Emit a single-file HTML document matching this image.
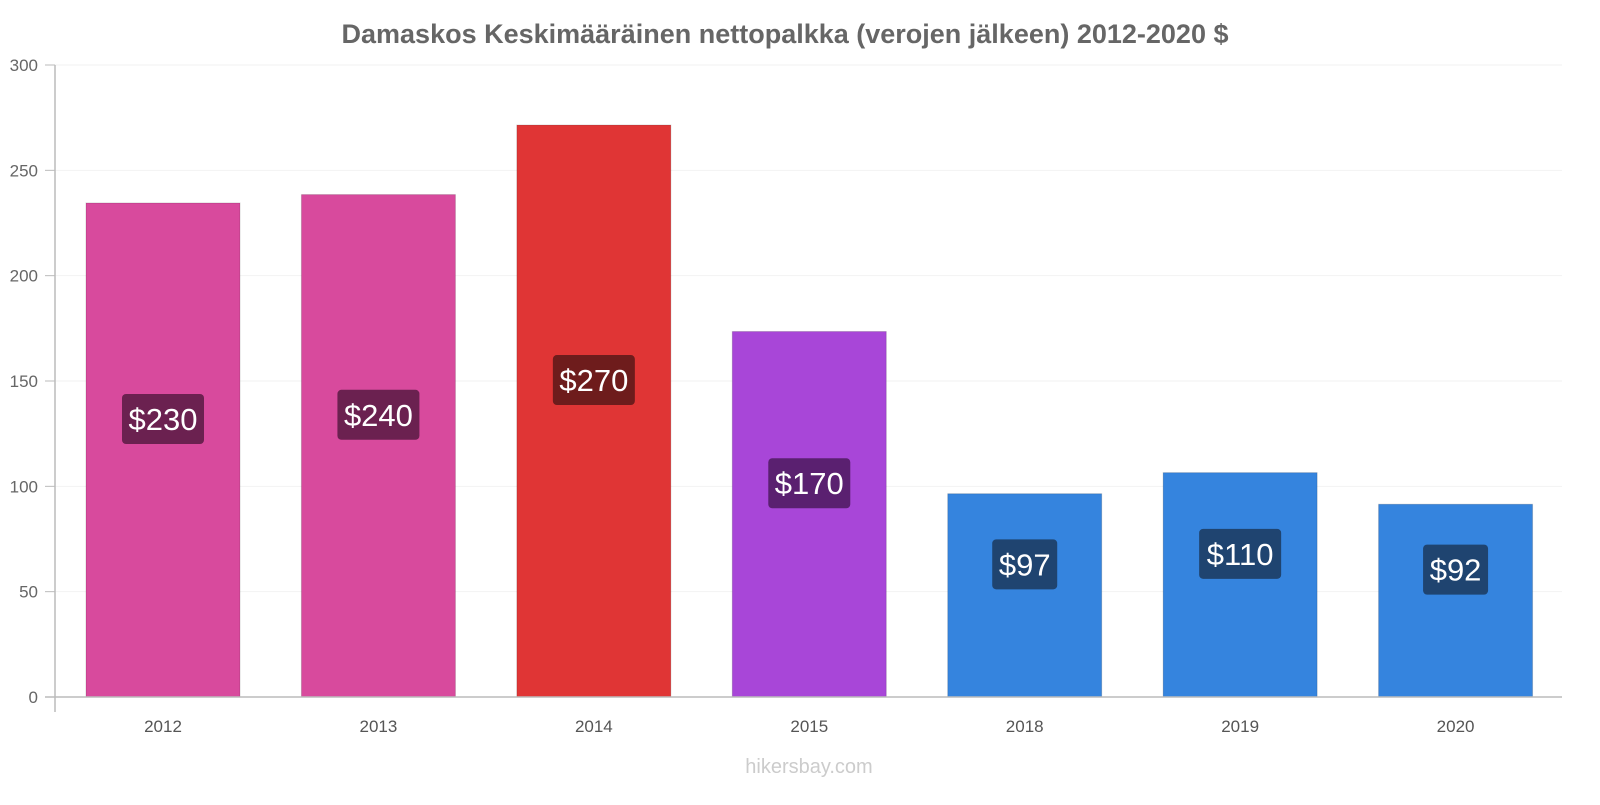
<!DOCTYPE html>
<html><head><meta charset="utf-8"><style>
body{margin:0;background:#fff;width:1600px;height:800px;overflow:hidden;font-family:"Liberation Sans",sans-serif}
</style></head><body>
<svg id="chart" width="1600" height="800">
<text x="785" y="43" text-anchor="middle" font-size="27" font-weight="bold" fill="#666">Damaskos Keskimääräinen nettopalkka (verojen jälkeen) 2012-2020 $</text>
<g id="grid"></g><g id="bars"></g><g id="labels"></g>
<line x1="55" y1="65" x2="55" y2="712" stroke="#bbb" stroke-width="1.5"/>
<line x1="45" y1="697" x2="1562" y2="697" stroke="#bbb" stroke-width="1.5"/>
<text x="809" y="773" text-anchor="middle" font-size="20" fill="#ccc">hikersbay.com</text>
</svg>
<script>
const categories=["2012","2013","2014","2015","2018","2019","2020"];
const values=[234.5,238.5,271.5,173.5,96.5,106.5,91.5];
const valueLabels=["$230","$240","$270","$170","$97","$110","$92"];
const yTicks=[0,50,100,150,200,250,300];
const colors=["#d84a9d","#d84a9d","#e03535","#a846d8","#3584de","#3584de","#3584de"];
const labelBg=["#6b2150","#6b2150","#6e1c1c","#5a2070","#1f4470","#1f4470","#1f4470"];
const NS="http://www.w3.org/2000/svg";
const y=v=>697-v*632/300;
const slot=(1563-55)/categories.length;
const x=i=>55+i*slot;
function mk(t,a,p){const e=document.createElementNS(NS,t);for(const k in a)e.setAttribute(k,a[k]);p.appendChild(e);return e;}
const grid=document.getElementById('grid'),bars=document.getElementById('bars'),labels=document.getElementById('labels');
yTicks.forEach(t=>{
 const l=mk('line',{x1:55,x2:1562,y1:y(t),y2:y(t),stroke:'#f2f2f2'},grid);
 
 
 const tk=mk('line',{x1:45,x2:55,y1:y(t),y2:y(t),stroke:'#bbb'},grid);
 
 
 const tx=mk('text',{x:38,y:y(t)+6,'text-anchor':'end','font-size':17,fill:'#666'},grid);
 tx.textContent=t;
 
 
});
categories.forEach((c,i)=>{
 const bx=x(i)+31,bw=154,top=y(values[i]);
 const r=mk('rect',{x:bx,y:top,width:bw,height:697-top,fill:colors[i],stroke:'rgba(0,0,0,0.15)'},bars);
 
 
 const cx=bx+bw/2,cy=y(values[i]/2)-31;
 const w=valueLabels[i].length*17+14;
 const b=mk('rect',{x:cx-w/2,y:cy-25,width:w,height:50,rx:4,fill:labelBg[i]},labels);
 
 
 const t=mk('text',{x:cx,y:cy+11,'text-anchor':'middle','font-size':31,fill:'#fff'},labels);
 t.textContent=valueLabels[i];
 
 
 const xl=mk('text',{x:cx,y:732,'text-anchor':'middle','font-size':17,fill:'#555'},labels);
 xl.textContent=c;
 
 
});
</script>
</body></html>
